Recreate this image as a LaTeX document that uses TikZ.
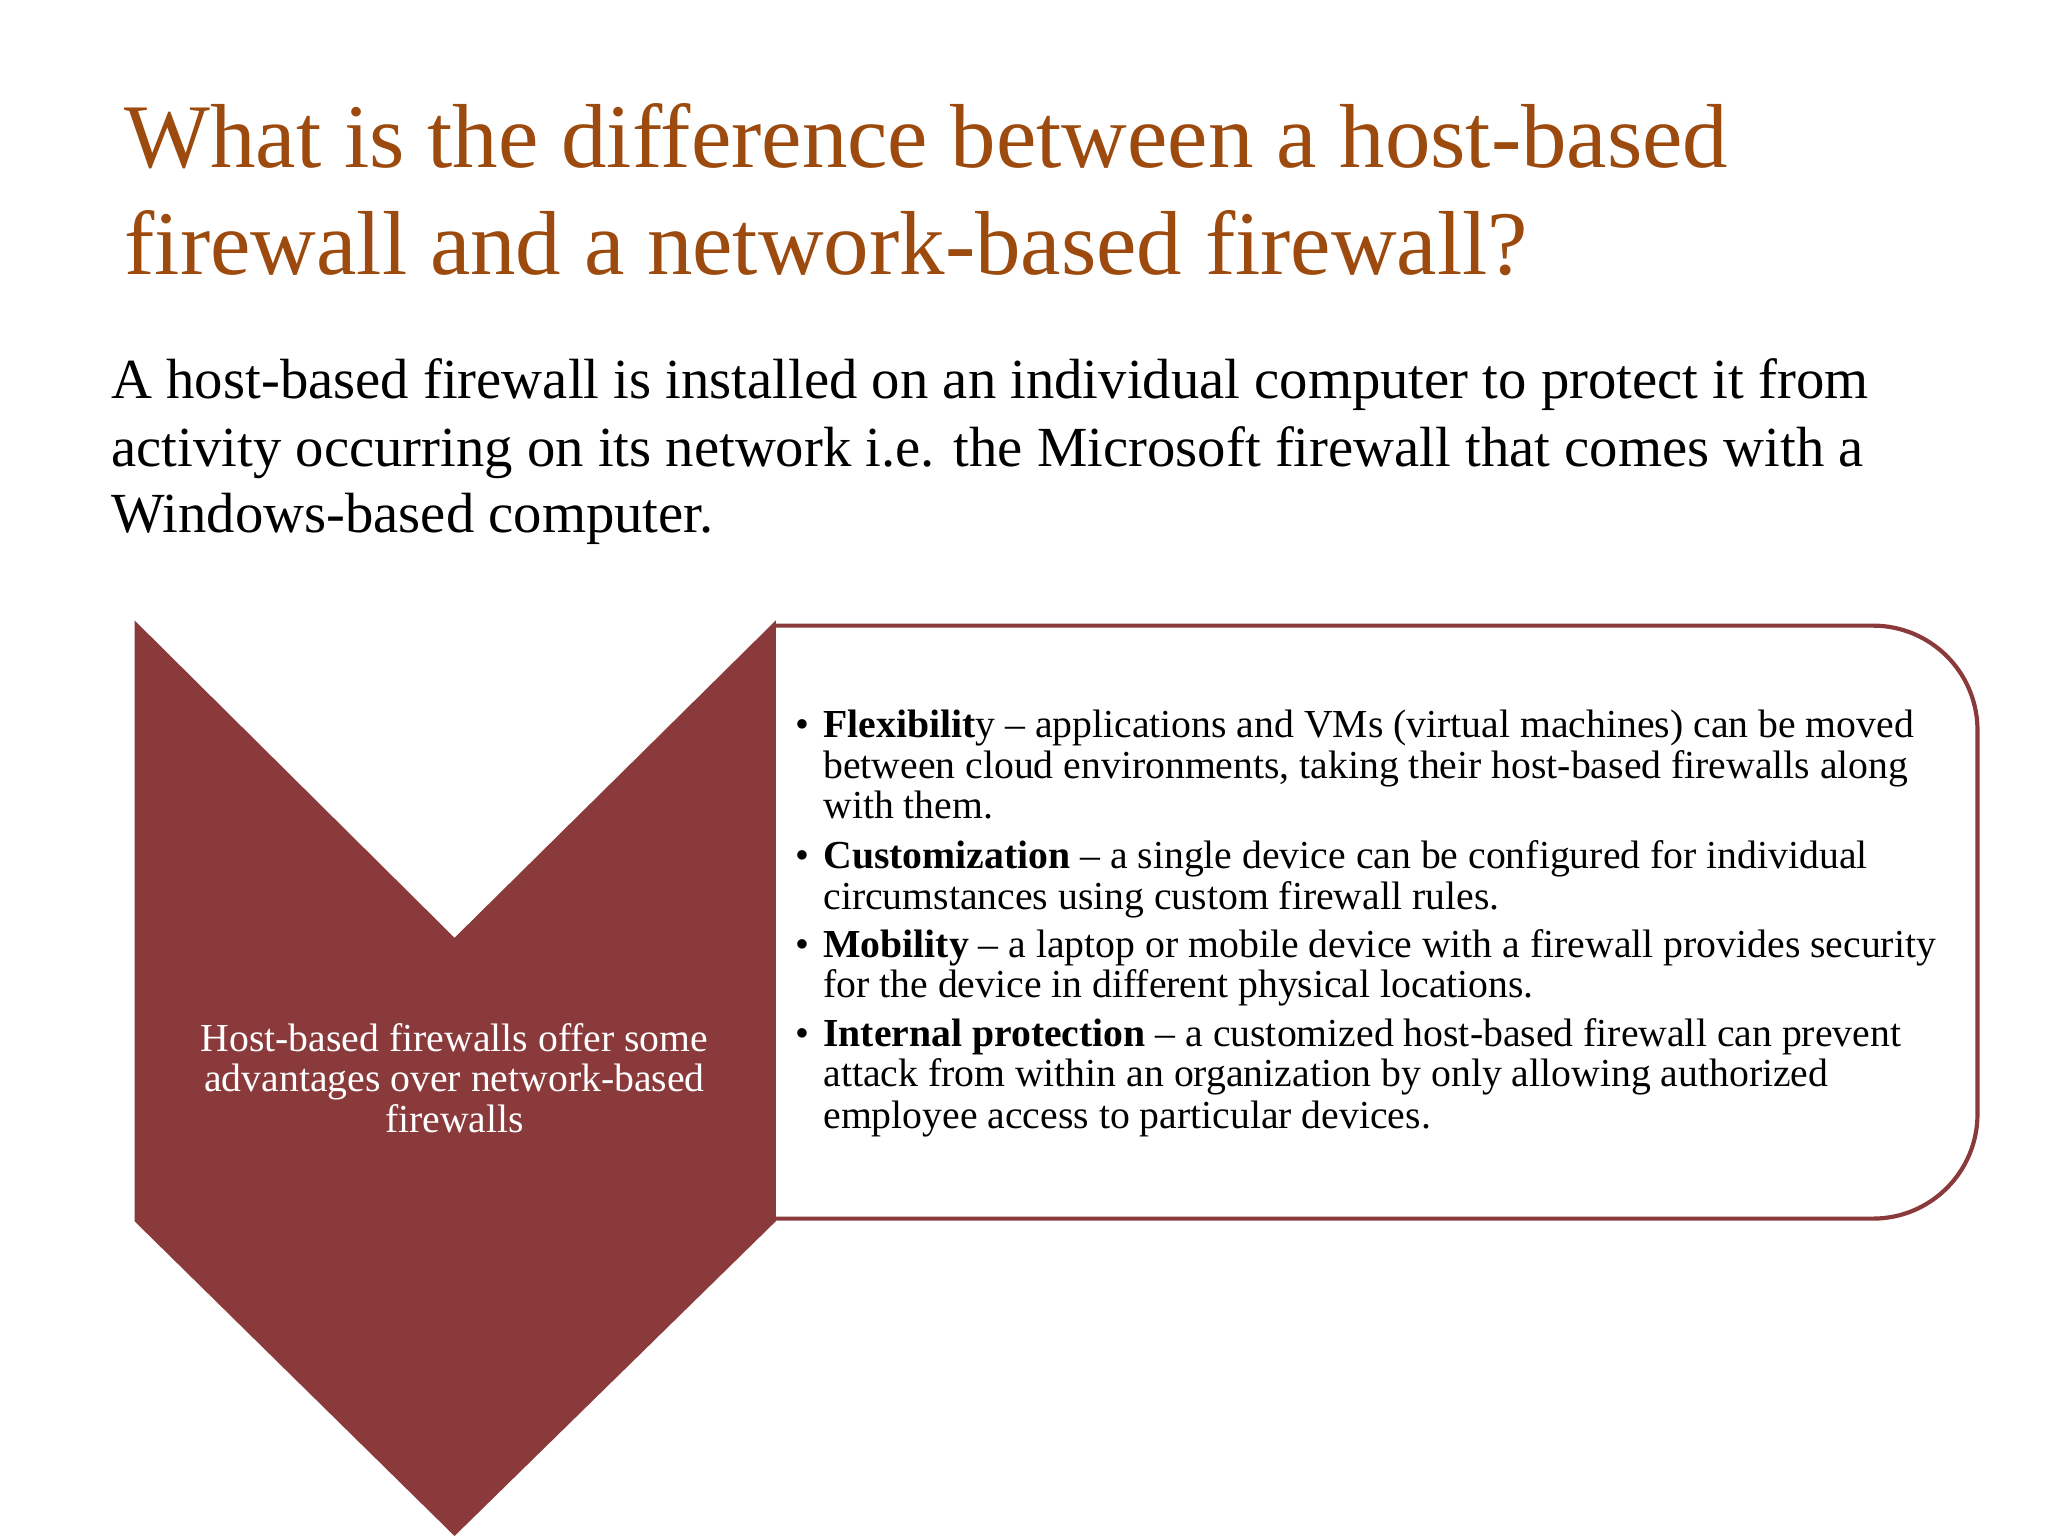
\documentclass[tikz,border=0pt]{standalone}
\usepackage{fontspec}
\setmainfont{Liberation Serif}
\definecolor{titlec}{HTML}{9C4A0E}
\definecolor{chev}{HTML}{8B3A3B}
\tikzset{ln/.style={anchor=base west,inner sep=0pt,font=\fontsize{15.2}{17}\selectfont},
 tl/.style={anchor=base west,inner sep=0pt,text=titlec,font=\fontsize{34.8}{40}\selectfont},
 bd/.style={anchor=base west,inner sep=0pt,font=\fontsize{21.7}{26}\selectfont},
 wt/.style={anchor=base,inner sep=0pt,text=white,font=\fontsize{15.2}{17}\selectfont}}
\begin{document}
\begin{tikzpicture}[x=0.5pt,y=-0.5pt]
\useasboundingbox[fill=white] (0,0) rectangle (1568,1176);
\node[tl] (t1) at (95,128) {What is the difference between a host-based};
\node[tl] (t2) at (95,210) {firewall and a network-based firewall?};
\node[bd] (b1) at (85,305) {A host-based firewall is installed on an individual computer to protect it from};
\node[bd] (b2) at (85,357) {activity occurring on its network i.e. the Microsoft firewall that comes with a};
\node[bd] (b3) at (85,408) {Windows-based computer.};
\draw[chev,line width=1.6pt,rounded corners=40pt] (594,479) -- (1514,479) -- (1514,933) -- (560,933);
\fill[chev] (103,475) -- (348,718) -- (594,475) -- (594,935) -- (348,1176) -- (103,935) -- cycle;
\node[wt] (c1) at (348,805) {Host-based firewalls offer some};
\node[wt] (c2) at (348,836) {advantages over network-based};
\node[wt] (c3) at (348,867) {firewalls};
\foreach \y in {565,665,733,801} \node[ln] at (609,\y) {\textbullet};
\node[ln] (l1) at (630,565) {\textbf{Flexibilit}y -- applications and VMs (virtual machines) can be moved};
\node[ln] (l2) at (630,596) {between cloud environments, taking their host-based firewalls along};
\node[ln] (l3) at (630,627) {with them.};
\node[ln] (l4) at (630,665) {\textbf{Customization} -- a single device can be configured for individual};
\node[ln] (l5) at (630,696) {circumstances using custom firewall rules.};
\node[ln] (l6) at (630,733) {\textbf{Mobility} -- a laptop or mobile device with a firewall provides security};
\node[ln] (l7) at (630,764) {for the device in different physical locations.};
\node[ln] (l8) at (630,801) {\textbf{Internal protection} -- a customized host-based firewall can prevent};
\node[ln] (l9) at (630,832) {attack from within an organization by only allowing authorized};
\node[ln] (l10) at (630,864) {employee access to particular devices.};
\end{tikzpicture}
\end{document}
